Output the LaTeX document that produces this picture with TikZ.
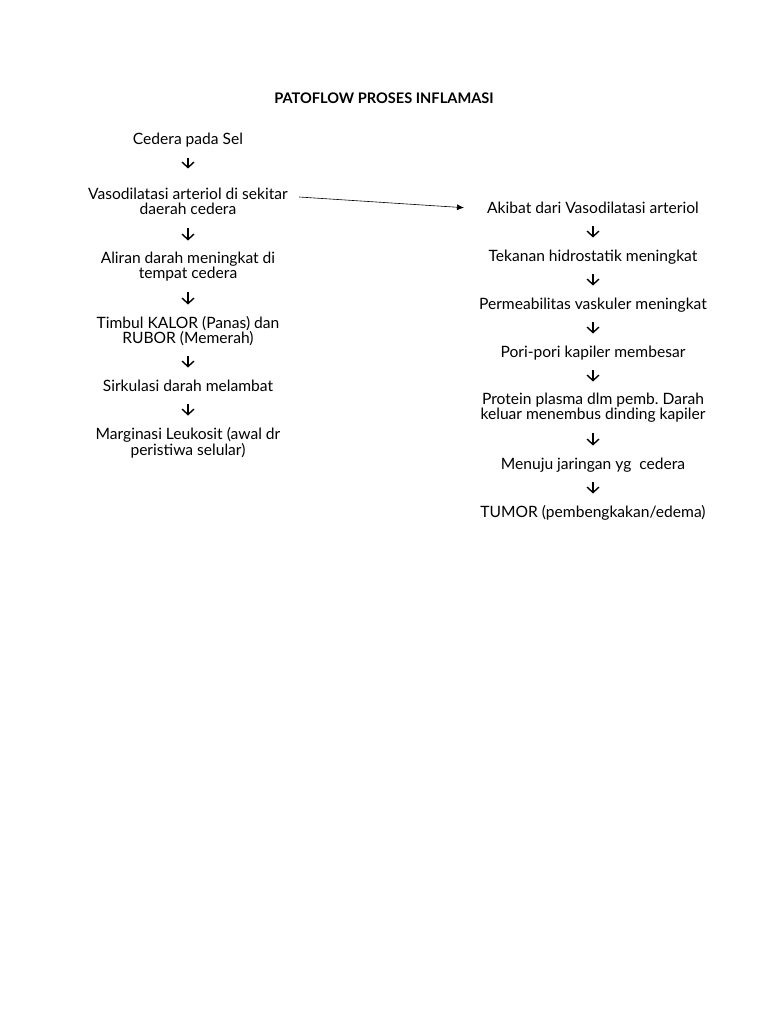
\documentclass[tikz,border=0pt]{standalone}
\usepackage{fontspec}
\setmainfont{Lato}
\usetikzlibrary{arrows.meta}

\newcommand{\topstrut}{\rule{0pt}{12pt}}
\newcommand{\botstrut}{\rule[-4pt]{0pt}{4pt}}

\tikzset{
	stage/.style={anchor=north, yshift=12pt, align=center, inner sep=0pt,
		font=\fontsize{15.6}{14.8}\selectfont,
		execute at begin node=\topstrut, execute at end node=\botstrut},
	flow/.style={-{Straight Barb[length=5.5pt,width=12pt]}, line width=1.4pt,
		shorten <=9pt, shorten >=11.5pt},
	link/.style={-{Latex[length=7pt,width=6pt]}, line width=0.6pt}
}

\begin{document}
\frenchspacing
\begin{tikzpicture}[x=1pt, y=-1pt]
				\useasboundingbox[fill=white] (0,0) rectangle (768,1024);

				\node[stage, font=\fontsize{14.6}{16}\selectfont\bfseries] (title) at (384,103) {PATOFLOW PROSES INFLAMASI};

				% kolom kiri
				\node[stage] (c1) at (188,144) {Cedera pada Sel};
				\node[stage] (c2) at (188,200) {Vasodilatasi arteriol di sekitar\\daerah cedera};
				\node[stage] (c3) at (188,264) {Aliran darah meningkat di\\tempat cedera};
				\node[stage] (c4) at (188,328) {Timbul KALOR (Panas) dan\\RUBOR (Memerah)};
				\node[stage] (c5) at (188,391) {Sirkulasi darah melambat};
				\node[stage] (c6) at (188,439) {Marginasi Leukosit (awal dr\\peristiwa selular)};

				% kolom kanan
				\node[stage] (r1) at (593,213) {Akibat dari Vasodilatasi arteriol};
				\node[stage] (r2) at (593,261) {Tekanan hidrostatik meningkat};
				\node[stage] (r3) at (593,309) {Permeabilitas vaskuler meningkat};
				\node[stage] (r4) at (593,357) {Pori-pori kapiler membesar};
				\node[stage] (r5) at (593,405) {Protein plasma dlm pemb. Darah\\keluar menembus dinding kapiler};
				\node[stage] (r6) at (593,469) {Menuju jaringan yg~ cedera};
				\node[stage] (r7) at (593,517) {TUMOR (pembengkakan/edema)};

				\draw[flow, shorten <=10pt, shorten >=19.5pt] (c1) -- (c2);
				\foreach \a/\b in {c2/c3, c3/c4, c4/c5, c5/c6, r1/r2, r2/r3, r3/r4, r4/r5, r5/r6, r6/r7}
				\draw[flow] (\a) -- (\b);

				\draw[link] ([xshift=11pt, yshift=-9pt]c2.north east) -- ([xshift=-23pt, yshift=1.5pt]r1.west);
\end{tikzpicture}
\end{document}
